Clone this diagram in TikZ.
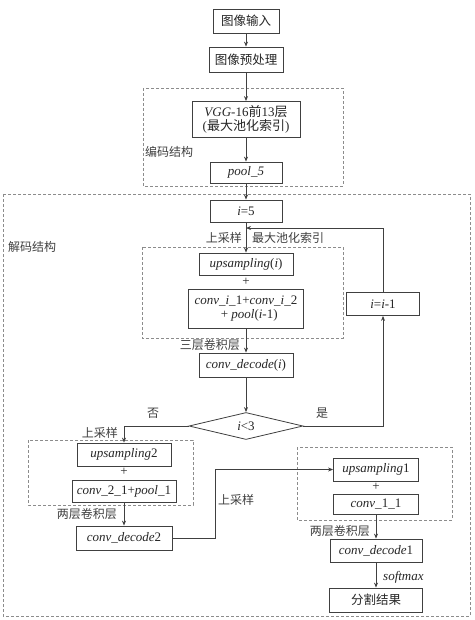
\documentclass[tikz,border=0pt]{standalone}
\usepackage{fontspec}
\setmainfont{Liberation Serif}
\newfontfamily\cjk{Noto Sans CJK SC}
\usetikzlibrary{shapes.geometric,arrows.meta}
\tikzset{
  box/.style={draw=black!75, line width=0.8pt, inner sep=0pt, align=center, text=black!85, font=\fontsize{13}{14.5}\selectfont},
  grp/.style={draw=black!45, line width=0.7pt, dash pattern=on 3pt off 2pt},
  lbl/.style={inner sep=0pt, text=black!75, font=\fontsize{12}{14}\selectfont\cjk},
  txt/.style={inner sep=0pt, text=black!85, font=\fontsize{13}{14}\selectfont},
  arr/.style={draw=black!75, line width=0.8pt, -{Stealth[length=5pt,width=4pt]}},
  ln/.style={draw=black!75, line width=0.8pt}
}
\begin{document}
\begin{tikzpicture}[x=1pt,y=-1pt]
\useasboundingbox (0,0) rectangle (474,620);
\fill[white] (0,0) rectangle (474,620);
% group frames
\draw[grp] (143,88) rectangle (343,186);
\draw[grp] (3,194) rectangle (470,616);
\draw[grp] (142,247) rectangle (343,338);
\draw[grp] (28,440) rectangle (193,505);
\draw[grp] (297,447) rectangle (452,520);
\node[lbl, anchor=west] (encl) at (145,152) {编码结构};
\node[lbl, anchor=west] (decl) at (8,247) {解码结构};
% encoder
\node[box, minimum width=66pt, minimum height=24pt] (in) at (246,21) {\fontsize{12.5}{14}\cjk 图像输入};
\node[box, minimum width=74pt, minimum height=25pt] (pre) at (246,59.5) {\fontsize{12.5}{14}\cjk 图像预处理};
\node[box, minimum width=108pt, minimum height=36pt] (vgg) at (246,119.5) {\textit{VGG}-16{\cjk 前}13{\cjk 层}\\({\cjk 最大池化索引})};
\node[box, minimum width=72pt, minimum height=21pt] (pool) at (246,172.5) {\textit{pool\_5}};
% decoder loop
\node[box, minimum width=72pt, minimum height=22pt] (i5) at (246,211) {\textit{i}=5};
\node[box, minimum width=94pt, minimum height=22pt] (upi) at (246,264) {\textit{upsampling}(\textit{i})};
\node[txt] (p1) at (246,282) {+};
\node[box, minimum width=115pt, minimum height=39pt] (convi) at (246,308.5) {\textit{conv\_i\_}1+\textit{conv\_i\_}2\\\ \ + \textit{pool}(\textit{i}-1)};
\node[box, minimum width=94pt, minimum height=24pt] (deci) at (246,365) {\textit{conv\_decode}(\textit{i})};
\node[box, shape=diamond, aspect=4.2, minimum width=114pt, minimum height=27pt] (dia) at (246,426) {\textit{i}<3};
\node[box, minimum width=73pt, minimum height=23pt] (idec) at (383,304) {\textit{i}=\textit{i}-1};
\coordinate (fbtop) at (383,228);
\coordinate (fbend) at (246,228);
\node[lbl, anchor=east] (l1) at (242,238) {上采样};
\node[lbl, anchor=west] (l2) at (252,238) {最大池化索引};
\node[lbl, anchor=east] (l3) at (240,345) {三层卷积层};
\node[lbl] (no) at (153,413) {否};
\node[lbl] (yes) at (322,413) {是};
% left branch
\node[box, minimum width=94pt, minimum height=23pt] (up2) at (124,454.5) {\textit{upsampling}2};
\node[txt] (p2) at (124,472) {+};
\node[box, minimum width=104pt, minimum height=22pt] (conv21) at (124,491) {\textit{conv\_}2\textit{\_}1+\textit{pool\_}1};
\node[box, minimum width=96pt, minimum height=24pt] (dec2) at (124,538) {\textit{conv\_decode}2};
\node[lbl, anchor=east] (l4) at (118,433) {上采样};
\node[lbl, anchor=east] (l5) at (117,514) {两层卷积层};
% right branch
\node[box, minimum width=85pt, minimum height=23pt] (up1) at (376,469.5) {\textit{upsampling}1};
\node[txt] (p3) at (376,487) {+};
\node[box, minimum width=85pt, minimum height=20pt] (conv11) at (376,504) {\textit{conv\_}1\textit{\_}1};
\node[box, minimum width=92pt, minimum height=23pt] (dec1) at (376,550.5) {\textit{conv\_decode}1};
\node[box, minimum width=93pt, minimum height=24pt] (res) at (376,600) {\fontsize{12.5}{14}\cjk 分割结果};
\node[lbl, anchor=west] (l6) at (218,500) {上采样};
\node[lbl, anchor=east] (l7) at (370,531) {两层卷积层};
\node[txt, anchor=west] (sm) at (383,577) {\textit{softmax}};
\coordinate (c2a) at (215,538);
\coordinate (c2b) at (215,469.5);
% connectors
\draw[arr] (in) -- (pre);
\draw[arr] (pre) -- (vgg);
\draw[arr] (vgg) -- (pool);
\draw[arr] (pool) -- (i5);
\draw[arr] (i5) -- (upi);
\draw[arr] (convi) -- (deci);
\draw[arr] (deci) -- (dia);
\draw[arr] (dia.east) -| (idec.south);
\draw[arr] (idec.north) -- (fbtop) -- (fbend);
\draw[arr] (dia.west) -| (up2.north);
\draw[arr] (conv21) -- (dec2);
\draw[arr] (dec2.east) -- (c2a) -- (c2b) -- (up1.west);
\draw[arr] (conv11) -- (dec1);
\draw[arr] (dec1) -- (res);
\end{tikzpicture}
\end{document}
